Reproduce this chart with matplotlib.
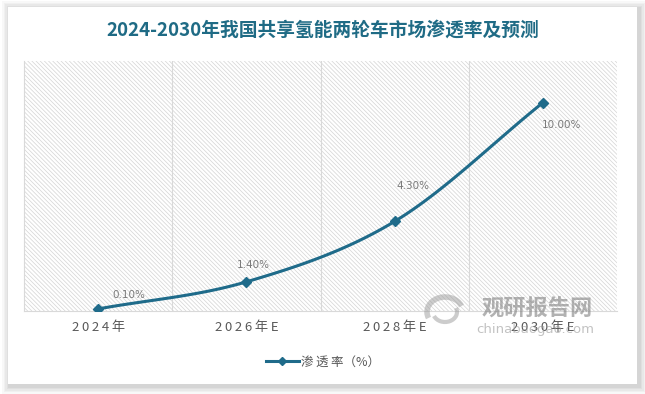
import numpy as np
import matplotlib
matplotlib.use("Agg")
import matplotlib.pyplot as plt
from matplotlib.patches import Rectangle, Arc

plt.rcParams['font.family'] = ['Noto Sans CJK SC', 'DejaVu Sans']
plt.rcParams['hatch.linewidth'] = 0.5

# data
years = ['2024年', '2026年E', '2028年E', '2030年E']
rate = [0.10, 1.40, 4.30, 10.00]
labels = ['0.10%', '1.40%', '4.30%', '10.00%']

LINE = '#1f6b8a'
SP = '\u2009'  # thin space for the spaced-out labels


def catmull_rom(x, y, n=30):
    # smooth curve through the points like Excel's "smoothed line"
    x = np.asarray(x, float)
    y = np.asarray(y, float)
    px = np.concatenate([[2 * x[0] - x[1]], x, [2 * x[-1] - x[-2]]])
    py = np.concatenate([[2 * y[0] - y[1]], y, [2 * y[-1] - y[-2]]])
    xs, ys = [], []
    t = np.linspace(0, 1, n)
    for i in range(1, len(px) - 2):
        for p, out in ((px, xs), (py, ys)):
            p0, p1, p2, p3 = p[i - 1], p[i], p[i + 1], p[i + 2]
            out.extend(0.5 * (2 * p1 + (-p0 + p2) * t
                              + (2 * p0 - 5 * p1 + 4 * p2 - p3) * t ** 2
                              + (-p0 + 3 * p1 - 3 * p2 + p3) * t ** 3))
    return np.array(xs), np.array(ys)


fig = plt.figure(figsize=(6.45, 3.94), dpi=100)
fig.patch.set_facecolor('white')

# card with soft shadow
for i, a in enumerate([0.05, 0.06, 0.07, 0.08, 0.1]):
    d = (5 - i) * 1.6
    fig.patches.append(Rectangle((8 - d + 2, -d - 2 + 10), 629 + 2 * d, 377 + 2 * d,
                                 transform=None, facecolor='#808080', alpha=a,
                                 edgecolor='none', zorder=0))
fig.patches.append(Rectangle((8, 10), 629, 377, transform=None,
                             facecolor='white', edgecolor='none', zorder=1))

ax = fig.add_axes([24 / 645, 1 - 311 / 394, (617 - 24) / 645, (311 - 61) / 394])
ax.set_zorder(2)
ax.patch.set_facecolor('white')
ax.add_patch(Rectangle((0, 0), 1, 1, transform=ax.transAxes, facecolor='white',
                       edgecolor='#d4d4d4', hatch='\\' * 8, linewidth=0, zorder=0))

x = np.arange(len(years))
sx, sy = catmull_rom(x, rate)
ax.plot(sx, sy, color=LINE, lw=2.2, zorder=3, solid_capstyle='round')
ax.plot(x, rate, ls='none', marker='D', ms=5, color=LINE, zorder=4)
ax.plot([], [], color=LINE, lw=2.2, marker='D', ms=4, label=SP.join('渗透率') + '（%）')

# label offsets in pixels (dx right, dy up)
offsets = [(31, 14), (7, 17), (18, 35), (19, -22)]
for xi, yi, lab, (dx, dy) in zip(x, rate, labels, offsets):
    ax.annotate(lab, (xi, yi), xytext=(dx * 0.72, dy * 0.72), textcoords='offset points',
                ha='center', va='center', fontsize=7.5, color='#7a7a7a',
                family=['DejaVu Sans'])

ax.set_xlim(-0.5, 3.5)
ax.set_ylim(0, 12)
ax.set_xticks(x)
ax.set_xticklabels([SP.join(y) for y in years], fontsize=9.5, color='#595959',
                   family=['Noto Sans CJK SC', 'DejaVu Sans'])
ax.tick_params(axis='x', length=0, pad=7)
ax.set_yticks([])
for xv in [0.5, 1.5, 2.5]:
    ax.axvline(xv, color='#d9d9d9', lw=0.8, zorder=1)
for s in ['top', 'right']:
    ax.spines[s].set_visible(False)
ax.spines['left'].set_color('#d9d9d9')
ax.spines['bottom'].set_color('#d9d9d9')

fig.text(0.5, 1 - 30 / 394, '2024-2030年我国共享氢能两轮车市场渗透率及预测',
         ha='center', va='center', fontsize=13.5, fontweight='bold', color='#1f6b85',
         zorder=5)

leg = fig.legend(loc='center', bbox_to_anchor=(323 / 645, 1 - 362 / 394), frameon=False,
                 fontsize=9, handlelength=2.6, handletextpad=0.2)
for t in leg.get_texts():
    t.set_color('#595959')

# watermark
fig.text(537 / 645, 1 - 309 / 394, '观研报告网', fontsize=16, fontweight='bold',
         color='#808080', alpha=0.6, ha='center', va='center', zorder=6)
fig.text(535 / 645, 1 - 330 / 394, 'chinabaogao.com', fontsize=9.5, color='#9a9a9a',
         alpha=0.6, ha='center', va='center', zorder=6, family=['DejaVu Sans'])
for w, h, t1, t2, lw in [(36, 30, 20, 200, 4), (24, 20, 200, 20, 3)]:
    fig.patches.append(Arc((445, 394 - 312), w, h, theta1=t1, theta2=t2,
                           transform=None, color='#9a9a9a', alpha=0.5, lw=lw, zorder=6))

fig.savefig('out.png', dpi=100)
